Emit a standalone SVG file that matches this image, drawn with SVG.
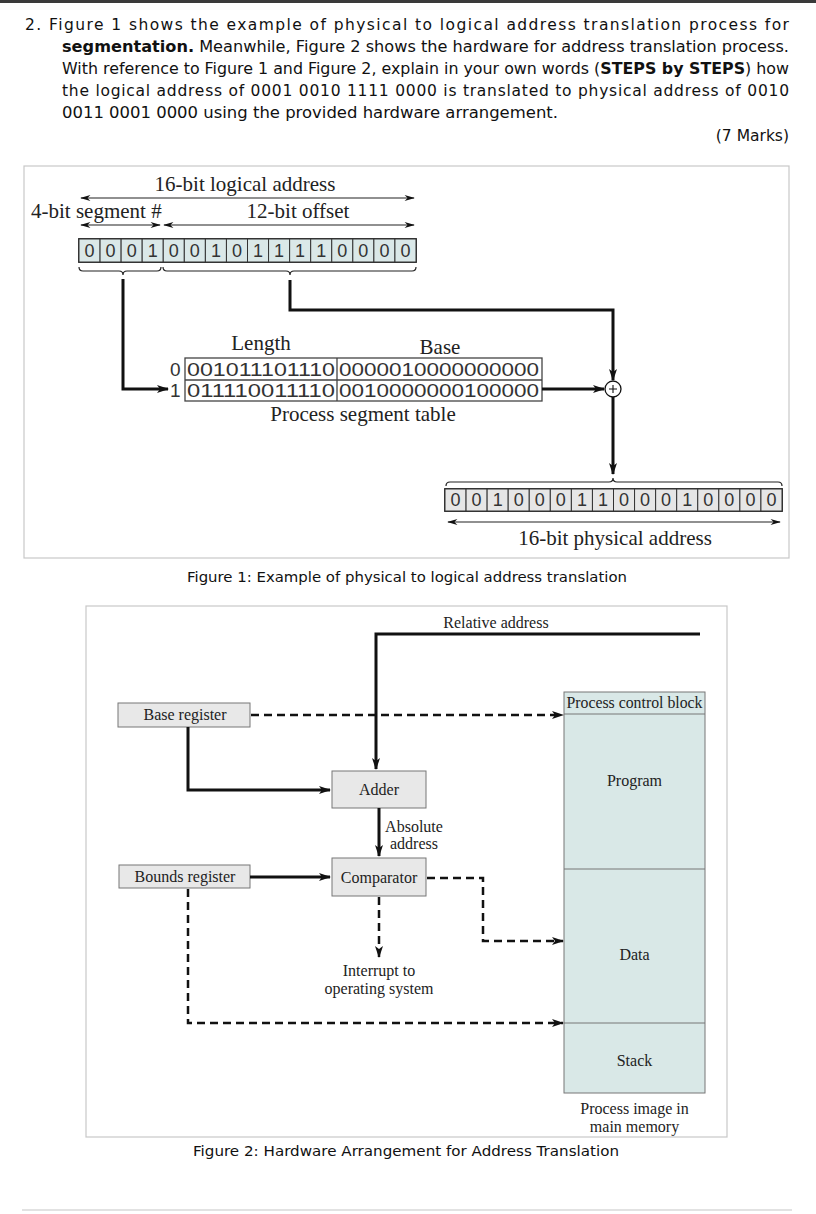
<svg xmlns="http://www.w3.org/2000/svg" width="816" height="1214" viewBox="0 0 816 1214">
<style>
.q{font-family:"DejaVu Sans","Liberation Sans",sans-serif;font-size:15.5px;fill:#111}
.b{font-weight:bold}
.cap{font-family:"DejaVu Sans","Liberation Sans",sans-serif;font-size:14.5px;fill:#111}
.s{font-family:"Liberation Serif","Times New Roman",serif;fill:#222}
.f1{font-size:21px}
.f2{font-size:16px}
.m{font-family:"Liberation Sans",Arial,sans-serif;fill:#333}
.bitL{fill:#dae8e8;stroke:#333;stroke-width:1}
.bitP{fill:#e6e6e6;stroke:#333;stroke-width:1}
.thin{fill:none;stroke:#222;stroke-width:1.2}
.thick{fill:none;stroke:#111;stroke-width:3}
.dash{fill:none;stroke:#111;stroke-width:2.5;stroke-dasharray:8 5}
.reg{fill:#e8e8e8;stroke:#777;stroke-width:1}
.mem{fill:#d9e8e7;stroke:#777;stroke-width:1}
.frame{fill:#fff;stroke:#c8c8c8;stroke-width:1.2}
</style>
<defs>
<marker id="ah" viewBox="0 0 12 8" refX="11" refY="4" markerWidth="12" markerHeight="8" markerUnits="userSpaceOnUse" orient="auto-start-reverse">
<path d="M0,0 L12,4 L0,8 L3,4 Z" fill="#111"/>
</marker>
<marker id="ahs" viewBox="0 0 12 7" refX="11" refY="3.5" markerWidth="11" markerHeight="6" markerUnits="userSpaceOnUse" orient="auto-start-reverse">
<path d="M0,0 L12,3.5 L0,7 L3.5,3.5 Z" fill="#111"/>
</marker>
</defs>
<rect x="0" y="0" width="816" height="1214" fill="#fff"/>
<rect x="0" y="0" width="816" height="3" fill="#3a3a3a"/>

<g id="question">
<text class="q" x="25" y="30" textLength="764" lengthAdjust="spacing">2. Figure 1 shows the example of physical to logical address translation process for</text>
<text class="q" x="62" y="52" textLength="727" lengthAdjust="spacingAndGlyphs"><tspan class="b">segmentation.</tspan> Meanwhile, Figure 2 shows the hardware for address translation process.</text>
<text class="q" x="62" y="74" textLength="727" lengthAdjust="spacingAndGlyphs">With reference to Figure 1 and Figure 2, explain in your own words (<tspan class="b">STEPS by STEPS</tspan>) how</text>
<text class="q" x="62" y="96" textLength="727" lengthAdjust="spacing">the logical address of 0001 0010 1111 0000 is translated to physical address of 0010</text>
<text class="q" x="62" y="118" textLength="496" lengthAdjust="spacingAndGlyphs">0011 0001 0000 using the provided hardware arrangement.</text>
<text class="q" x="789" y="141" text-anchor="end">(7 Marks)</text>
</g>

<!-- Figure 1 -->
<rect class="frame" x="24" y="166" width="765" height="392"/>

<g id="fig1-labels">
<text class="s f1" x="245" y="191" text-anchor="middle">16-bit logical address</text>
<text class="s f1" x="31" y="218">4-bit segment #</text>
<text class="s f1" x="298" y="218" text-anchor="middle">12-bit offset</text>
</g>

<g id="fig1-dims">
<line class="thin" x1="81" y1="198" x2="414" y2="198" marker-start="url(#ahs)" marker-end="url(#ahs)"/>
<line class="thin" x1="81" y1="225" x2="160" y2="225" marker-start="url(#ahs)" marker-end="url(#ahs)"/>
<line class="thin" x1="164" y1="225" x2="414" y2="225" marker-start="url(#ahs)" marker-end="url(#ahs)"/>
<line class="thin" x1="448" y1="522" x2="780" y2="522" marker-start="url(#ahs)" marker-end="url(#ahs)"/>
</g>

<g id="logical-address">
<rect x="79" y="239" width="337" height="23" fill="none" stroke="#222" stroke-width="1.8"/>
<g>
<rect class="bitL" x="79" y="239" width="21.06" height="23"/>
<rect class="bitL" x="100.06" y="239" width="21.06" height="23"/>
<rect class="bitL" x="121.13" y="239" width="21.06" height="23"/>
<rect class="bitL" x="142.19" y="239" width="21.06" height="23"/>
<rect class="bitL" x="163.25" y="239" width="21.06" height="23"/>
<rect class="bitL" x="184.31" y="239" width="21.06" height="23"/>
<rect class="bitL" x="205.38" y="239" width="21.06" height="23"/>
<rect class="bitL" x="226.44" y="239" width="21.06" height="23"/>
<rect class="bitL" x="247.5" y="239" width="21.06" height="23"/>
<rect class="bitL" x="268.56" y="239" width="21.06" height="23"/>
<rect class="bitL" x="289.63" y="239" width="21.06" height="23"/>
<rect class="bitL" x="310.69" y="239" width="21.06" height="23"/>
<rect class="bitL" x="331.75" y="239" width="21.06" height="23"/>
<rect class="bitL" x="352.81" y="239" width="21.06" height="23"/>
<rect class="bitL" x="373.88" y="239" width="21.06" height="23"/>
<rect class="bitL" x="394.94" y="239" width="21.06" height="23"/>
</g>
<g class="m" font-size="18" text-anchor="middle">
<text x="89.5" y="257">0</text><text x="110.6" y="257">0</text><text x="131.7" y="257">0</text><text x="152.7" y="257">1</text>
<text x="173.8" y="257">0</text><text x="194.8" y="257">0</text><text x="215.9" y="257">1</text><text x="237" y="257">0</text>
<text x="258" y="257">1</text><text x="279.1" y="257">1</text><text x="300.1" y="257">1</text><text x="321.2" y="257">1</text>
<text x="342.3" y="257">0</text><text x="363.3" y="257">0</text><text x="384.4" y="257">0</text><text x="405.5" y="257">0</text>
</g>
<path class="thin" stroke-width="1" d="M79,267 q0,4 4,4 L119,271 q4,0 4,4 q0,-4 4,-4 L157,271 q4,0 4,-4"/>
<path class="thin" stroke-width="1" d="M163,267 q0,4 4,4 L286,271 q4,0 4,4 q0,-4 4,-4 L412,271 q4,0 4,-4"/>
</g>

<g id="segment-table">
<text class="s" font-size="21" x="261" y="350" text-anchor="middle">Length</text>
<text class="s" font-size="21" x="440" y="354" text-anchor="middle">Base</text>
<rect x="185" y="358" width="357" height="43" fill="#fff" stroke="#444" stroke-width="1.3"/>
<line x1="185" y1="380" x2="542" y2="380" stroke="#444" stroke-width="1.3"/>
<line x1="337" y1="358" x2="337" y2="401" stroke="#444" stroke-width="1.3"/>
<g class="m" font-size="19">
<text x="170" y="376">0</text>
<text x="170" y="397">1</text>
<text x="187" y="376" textLength="148" lengthAdjust="spacingAndGlyphs">001011101110</text>
<text x="187" y="397" textLength="148" lengthAdjust="spacingAndGlyphs">011110011110</text>
<text x="339" y="376" textLength="200" lengthAdjust="spacingAndGlyphs">0000010000000000</text>
<text x="339" y="397" textLength="200" lengthAdjust="spacingAndGlyphs">0010000000100000</text>
</g>
<text class="s f1" x="363" y="421" text-anchor="middle">Process segment table</text>
</g>

<g id="adder-circle">
<circle cx="613" cy="389" r="8" fill="#fff" stroke="#111" stroke-width="1.3"/>
<path d="M609,389 h8 M613,385 v8" stroke="#111" stroke-width="1.1"/>
</g>

<g id="physical-address">
<path class="thin" stroke-width="1" d="M446,486 q0,-4 4,-4 L609,482 q4,0 4,-4 q0,4 4,4 L778,482 q4,0 4,4"/>
<rect x="445" y="489" width="337" height="22" fill="none" stroke="#222" stroke-width="1.8"/>
<g>
<rect class="bitP" x="445" y="489" width="21.06" height="22"/>
<rect class="bitP" x="466.06" y="489" width="21.06" height="22"/>
<rect class="bitP" x="487.13" y="489" width="21.06" height="22"/>
<rect class="bitP" x="508.19" y="489" width="21.06" height="22"/>
<rect class="bitP" x="529.25" y="489" width="21.06" height="22"/>
<rect class="bitP" x="550.31" y="489" width="21.06" height="22"/>
<rect class="bitP" x="571.38" y="489" width="21.06" height="22"/>
<rect class="bitP" x="592.44" y="489" width="21.06" height="22"/>
<rect class="bitP" x="613.5" y="489" width="21.06" height="22"/>
<rect class="bitP" x="634.56" y="489" width="21.06" height="22"/>
<rect class="bitP" x="655.63" y="489" width="21.06" height="22"/>
<rect class="bitP" x="676.69" y="489" width="21.06" height="22"/>
<rect class="bitP" x="697.75" y="489" width="21.06" height="22"/>
<rect class="bitP" x="718.81" y="489" width="21.06" height="22"/>
<rect class="bitP" x="739.88" y="489" width="21.06" height="22"/>
<rect class="bitP" x="760.94" y="489" width="21.06" height="22"/>
</g>
<g class="m" font-size="18" text-anchor="middle">
<text x="455.5" y="506">0</text><text x="476.6" y="506">0</text><text x="497.7" y="506">1</text><text x="518.7" y="506">0</text>
<text x="539.8" y="506">0</text><text x="560.8" y="506">0</text><text x="581.9" y="506">1</text><text x="603" y="506">1</text>
<text x="624" y="506">0</text><text x="645.1" y="506">0</text><text x="666.1" y="506">0</text><text x="687.2" y="506">1</text>
<text x="708.3" y="506">0</text><text x="729.3" y="506">0</text><text x="750.4" y="506">0</text><text x="771.5" y="506">0</text>
</g>
<text class="s f1" x="615" y="545" text-anchor="middle">16-bit physical address</text>
</g>

<g id="fig1-connectors">
<path class="thick" d="M123,279 V389 H168" marker-end="url(#ah)"/>
<path class="thick" d="M290,280 V310 H613 V380" marker-end="url(#ah)"/>
<path class="thick" d="M542,389 H604" marker-end="url(#ah)"/>
<path class="thick" d="M613,397 V474" marker-end="url(#ah)"/>
</g>

<text class="cap" x="187" y="582" textLength="440" lengthAdjust="spacingAndGlyphs">Figure 1: Example of physical to logical address translation</text>

<!-- Figure 2 -->
<rect class="frame" x="86" y="606" width="641" height="531"/>

<g id="relative-address-label">
<text class="s f2" x="496" y="628" text-anchor="middle">Relative address</text>
</g>

<g id="base-register">
<rect class="reg" x="118" y="703" width="132" height="24"/>
<text class="s f2" x="185" y="720" text-anchor="middle">Base register</text>
</g>

<g id="bounds-register">
<rect class="reg" x="119" y="865" width="131" height="23"/>
<text class="s f2" x="185" y="882" text-anchor="middle">Bounds register</text>
</g>

<g id="adder">
<rect class="reg" x="332" y="771" width="94" height="37"/>
<text class="s f2" x="379" y="795" text-anchor="middle">Adder</text>
</g>

<g id="comparator">
<rect class="reg" x="332" y="858" width="94" height="38"/>
<text class="s f2" x="379" y="883" text-anchor="middle">Comparator</text>
</g>

<g id="absolute-label">
<text class="s f2" x="414" y="832" text-anchor="middle">Absolute</text>
<text class="s f2" x="414" y="849" text-anchor="middle">address</text>
</g>

<g id="interrupt">
<text class="s f2" x="379" y="976" text-anchor="middle">Interrupt to</text>
<text class="s f2" x="379" y="994" text-anchor="middle">operating system</text>
</g>

<g id="process-image">
<rect class="mem" x="564" y="692" width="141" height="401"/>
<line x1="564" y1="714" x2="705" y2="714" stroke="#777" stroke-width="1"/>
<line x1="564" y1="869" x2="705" y2="869" stroke="#777" stroke-width="1"/>
<line x1="564" y1="1023" x2="705" y2="1023" stroke="#777" stroke-width="1"/>
<text class="s f2" x="634.5" y="708" text-anchor="middle" textLength="136" lengthAdjust="spacingAndGlyphs">Process control block</text>
<text class="s f2" x="634.5" y="786" text-anchor="middle">Program</text>
<text class="s f2" x="634.5" y="960" text-anchor="middle">Data</text>
<text class="s f2" x="634.5" y="1066" text-anchor="middle">Stack</text>
<text class="s f2" x="634.5" y="1114" text-anchor="middle">Process image in</text>
<text class="s f2" x="634.5" y="1132" text-anchor="middle">main memory</text>
</g>

<g id="fig2-connectors">
<path class="thick" stroke-width="2.5" d="M700,634 H376 V769" marker-end="url(#ah)"/>
<path class="thick" stroke-width="2.5" d="M188,727 V790 H330" marker-end="url(#ah)"/>
<path class="thick" stroke-width="2.5" d="M379,808 V856" marker-end="url(#ah)"/>
<path class="thick" stroke-width="2.5" d="M250,877 H330" marker-end="url(#ah)"/>
<path class="dash" d="M251,715 H563" marker-end="url(#ah)"/>
<path class="dash" d="M427,878 H483 V941 H563" marker-end="url(#ah)"/>
<path class="dash" d="M379,897 V957" marker-end="url(#ah)"/>
<path class="dash" d="M188,889 V1023 H563" marker-end="url(#ah)"/>
</g>

<text class="cap" x="193" y="1156" textLength="426" lengthAdjust="spacingAndGlyphs">Figure 2: Hardware Arrangement for Address Translation</text>

<line x1="22" y1="1210" x2="792" y2="1210" stroke="#d8d8d8" stroke-width="1.5"/>
</svg>
